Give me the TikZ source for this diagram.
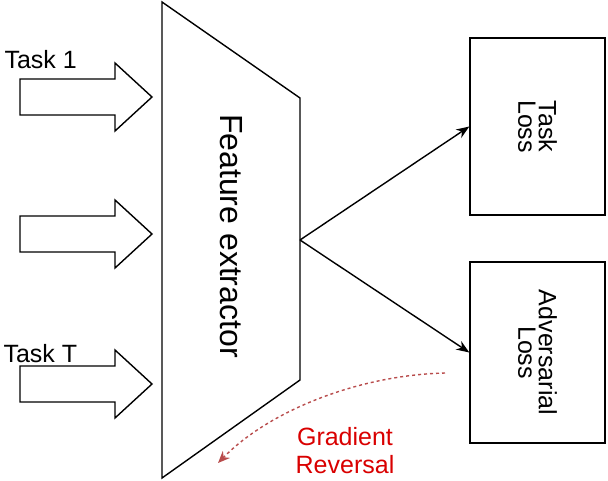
\documentclass[tikz,border=0pt]{standalone}
\usepackage{fontspec}
\setmainfont{Liberation Sans}
\usetikzlibrary{arrows.meta}
\begin{document}
\begin{tikzpicture}[x=1pt,y=-1pt,
  blk/.style={draw,line width=1.4pt,fill=white},
  lbl/.style={font=\fontsize{25}{28}\selectfont},
  conn/.style={line width=1.4pt,-{Stealth[length=13pt,width=10pt]}},
  redc/.style={draw=red!60!black!70,line width=1.4pt,dashed,-{Stealth[length=12pt,width=10pt]}}]
\useasboundingbox (0,0) rectangle (608,480);
\draw[blk] (162,2) -- (300,98) -- (300,380) -- (162,478) -- cycle;
\node[rotate=-90,font=\fontsize{32}{36}\selectfont] (fe) at (231,236) {Feature extractor};
\coordinate (tip) at (300,240);
\foreach \y/\n in {97/a1,234/a2,384/a3}{
  \draw[blk] (20,\y-18) -- (115,\y-18) -- (115,\y-34) -- (152,\y) -- (115,\y+34) -- (115,\y+18) -- (20,\y+18) -- cycle;
}
\node[lbl,anchor=west] (t1) at (1,60) {Task 1};
\node[lbl,anchor=west] (tT) at (0,354) {Task T};
\node[blk,minimum width=135pt,minimum height=177pt] (tl) at (537.5,126.5) {};
\node[lbl,rotate=-90] at (tl.center) {\shortstack{Task\\Loss}};
\node[blk,minimum width=135pt,minimum height=181pt] (al) at (537.5,352.5) {};
\node[lbl,rotate=-90] at (al.center) {\shortstack{Adversarial\\Loss}};
\draw[conn] (tip) -- (tl.west);
\draw[conn] (tip) -- (al.west);
\coordinate (rs) at (445,373);
\coordinate (re) at (218,463);
\draw[redc] (rs) .. controls (360,375) and (270,410) .. (re);
\node[lbl,text=red!85!black,align=center] (gr) at (345,451) {Gradient\\Reversal};
\end{tikzpicture}
\end{document}
